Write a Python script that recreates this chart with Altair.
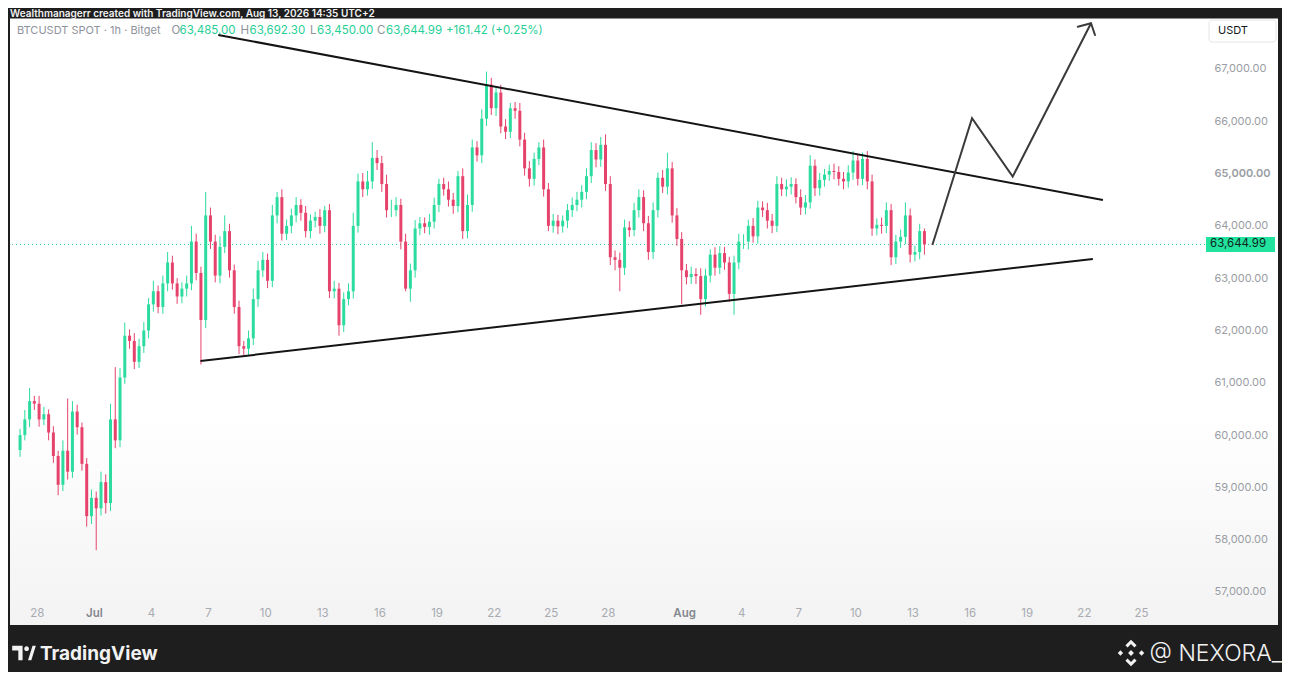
import altair as alt
import pandas as pd

# ---------------- data ----------------
FIRST_OPEN = 59715
START = "2026-06-27 03:00"   # centre of the first 6-hour candle
STEP_HOURS = 6

CLOSE = [
    60000, 60300, 60650, 60600, 60300, 60400, 60050, 59600, 59050, 59700,
    59300, 60450, 60150, 59450, 58450, 58800, 58600, 59100, 58700, 60300,
    59900, 61100, 61900, 61800, 61400, 61700, 62000, 62500, 62750, 62450,
    62900, 63300, 62900, 62650, 62800, 62900, 63700, 63100, 62200, 64200,
    63700, 63050, 63600, 63900, 63150, 62450, 61700, 61650, 61850, 62600,
    63150, 63350, 62950, 64200, 64550, 63850, 64000, 64200, 64400, 64250,
    63900, 64100, 64170, 64000, 64300, 62750, 62800, 62100, 62600, 62750,
    64000, 64850, 64700, 64850, 65300, 65200, 64800, 64300, 64300, 64400,
    63700, 62800, 63150, 63950, 64050, 63980, 64080, 64400, 64800, 64700,
    64500, 64380, 64950, 63900, 64400, 65500, 65350, 66050, 66700, 66250,
    66550, 65900, 65800, 66250, 66200, 65650, 65100, 64900, 65280, 65500,
    64700, 64000, 64100, 63990, 64100, 64300, 64400, 64500, 64650, 64950,
    65450, 65270, 65550, 64800, 63400, 63350, 63200, 63970, 63920, 64300,
    64550, 64050, 63500, 64300, 64920, 64750, 65100, 64200, 63750, 63150,
    63020, 63080, 63040, 62600, 63050, 63450, 63200, 63480, 63300, 62700,
    63300, 63700, 63700, 64000, 63800, 64350, 64300, 64100, 64000, 64800,
    64700, 64750, 64800, 64550, 64350, 64450, 65150, 64720, 64880, 64980,
    65050, 65030, 64900, 64850, 65020, 65250, 64900, 65280, 64850, 63950,
    64020, 64000, 64300, 63400, 63700, 63790, 64200, 63450, 63500, 63900,
    63645,
]
UPPER_WICK = [
    120, 180, 250, 100, 150, 140, 90, 120, 100, 200,
    1000, 200, 130, 90, 110, 160, 120, 200, 150, 300,
    1000, 180, 250, 120, 150, 140, 160, 120, 200, 110,
    150, 200, 130, 100, 120, 150, 300, 150, 120, 450,
    150, 130, 200, 300, 140, 110, 120, 100, 150, 200,
    180, 150, 120, 200, 100, 150, 120, 130, 150, 110,
    130, 120, 100, 150, 80, 120, 150, 110, 130, 150,
    250, 150, 160, 200, 300, 150, 140, 180, 200, 150,
    120, 150, 130, 160, 120, 110, 150, 140, 100, 120,
    150, 130, 100, 150, 200, 150, 120, 180, 250, 130,
    100, 150, 140, 100, 120, 150, 130, 140, 120, 100,
    150, 120, 130, 110, 100, 120, 140, 150, 130, 150,
    150, 130, 150, 200, 150, 130, 140, 150, 120, 140,
    150, 130, 140, 150, 100, 150, 300, 120, 140, 130,
    120, 140, 110, 150, 130, 100, 140, 130, 120, 110,
    130, 150, 140, 120, 150, 130, 120, 140, 130, 150,
    120, 140, 130, 110, 150, 140, 200, 120, 130, 110,
    120, 140, 110, 130, 140, 180, 120, 120, 150, 130,
    120, 140, 150, 120, 130, 140, 250, 130, 120, 140,
    50,
]
LOWER_WICK = [
    130, 100, 150, 120, 140, 110, 150, 130, 200, 120,
    150, 120, 140, 130, 200, 150, 800, 140, 200, 150,
    150, 130, 120, 150, 140, 120, 130, 150, 140, 120,
    130, 150, 120, 140, 130, 150, 130, 140, 850, 150,
    140, 130, 150, 120, 140, 130, 150, 120, 140, 130,
    150, 130, 140, 120, 150, 130, 120, 140, 130, 150,
    120, 140, 130, 150, 120, 130, 140, 200, 130, 120,
    140, 130, 150, 120, 140, 130, 150, 140, 130, 120,
    150, 50, 250, 140, 130, 120, 150, 130, 140, 120,
    130, 150, 120, 150, 140, 130, 120, 150, 140, 130,
    150, 130, 140, 120, 150, 130, 140, 150, 130, 120,
    140, 100, 130, 150, 120, 140, 130, 120, 150, 140,
    130, 150, 140, 130, 150, 200, 450, 140, 130, 120,
    140, 150, 150, 130, 140, 120, 150, 140, 130, 650,
    140, 130, 150, 300, 140, 130, 150, 120, 140, 150,
    400, 130, 140, 150, 120, 140, 130, 150, 140, 120,
    130, 140, 150, 120, 140, 130, 120, 150, 140, 130,
    120, 140, 130, 150, 120, 140, 130, 120, 150, 140,
    130, 150, 140, 150, 130, 120, 140, 150, 130, 140,
    195,
]

LAST_PRICE = 63644.99
OHLC_LABELS = ["O", "H", "L", "C"]
OHLC_VALUES = ["63,485.00", "63,692.30", "63,450.00", "63,644.99"]
CHANGE_TEXT = "+161.42 (+0.25%)"
SYMBOL_TEXT = "BTCUSDT SPOT · 1h · Bitget"
HEADER_TEXT = "Wealthmanagerr created with TradingView.com, Aug 13, 2026 14:35 UTC+2"

Y_TICKS = [57000, 58000, 59000, 60000, 61000, 62000, 63000, 64000, 65000, 66000, 67000]
X_TICK_DATES = [(6, 28), (7, 1), (7, 4), (7, 7), (7, 10), (7, 13), (7, 16), (7, 19),
                (7, 22), (7, 25), (7, 28), (8, 1), (8, 4), (8, 7), (8, 10), (8, 13),
                (8, 16), (8, 19), (8, 22), (8, 25)]

UPPER_TREND = [("2026-07-07T12:52:00", 67650), ("2026-08-23T00:00:00", 64495)]
LOWER_TREND = [("2026-07-06T14:24:00", 61417), ("2026-08-22T11:20:00", 63367)]
PROJECTION = [("2026-08-14T01:00:00", 63635), ("2026-08-16T03:00:00", 66057),
              ("2026-08-18T06:15:00", 64941), ("2026-08-22T09:00:00", 67874)]
ARROW_TIP = ("2026-08-22T09:00:00", 67874)
ARROW_WINGS = [("2026-08-21T16:20:00", 67809), ("2026-08-22T14:00:00", 67650)]

# ---------------- styling ----------------
UP = "#2bdc9e"
DOWN = "#e6436c"
GREEN_TXT = "#26cf96"
GREY_TXT = "#8e929b"
FONT = "Inter"
W, H = 1195, 585

# ---------------- tables ----------------
times = [(pd.Timestamp(START) + pd.Timedelta(hours=STEP_HOURS * i)).strftime("%Y-%m-%dT%H:%M:%S")
         for i in range(len(CLOSE))]
opens = [FIRST_OPEN] + CLOSE[:-1]
candles = pd.DataFrame({
    "t": times,
    "open": opens,
    "close": CLOSE,
    "high": [max(o, c) + u for o, c, u in zip(opens, CLOSE, UPPER_WICK)],
    "low": [min(o, c) - l for o, c, l in zip(opens, CLOSE, LOWER_WICK)],
})

trend = pd.DataFrame({
    "t": [UPPER_TREND[0][0], LOWER_TREND[0][0]],
    "p": [UPPER_TREND[0][1], LOWER_TREND[0][1]],
    "t2": [UPPER_TREND[1][0], LOWER_TREND[1][0]],
    "p2": [UPPER_TREND[1][1], LOWER_TREND[1][1]],
})
proj = pd.DataFrame({"t": [a for a, _ in PROJECTION], "p": [b for _, b in PROJECTION],
                     "k": list(range(len(PROJECTION)))})
head = pd.DataFrame({"t": [a for a, _ in ARROW_WINGS], "p": [b for _, b in ARROW_WINGS],
                     "t2": [ARROW_TIP[0]] * 2, "p2": [ARROW_TIP[1]] * 2})
one = pd.DataFrame({"a": [0]})

# ---------------- scales / axes ----------------
xscale = alt.Scale(domain=[alt.DateTime(year=2026, month=6, date=26, hours=20, minutes=37),
                           alt.DateTime(year=2026, month=8, date=28, hours=2, minutes=22)])
yscale = alt.Scale(domain=[56847, 68032], nice=False, zero=False)

xaxis = alt.Axis(
    values=[alt.DateTime(year=2026, month=m, date=d) for m, d in X_TICK_DATES],
    labelExpr="date(datum.value) == 1 ? timeFormat(datum.value, '%b') : timeFormat(datum.value, '%-d')",
    labelColor={"condition": {"test": "date(datum.value) == 1", "value": "#85888f"}, "value": "#a7aab1"},
    labelFontWeight={"condition": {"test": "date(datum.value) == 1", "value": 600}, "value": 400},
    domain=False, ticks=False, grid=False, labelPadding=7, labelFontSize=11.5,
    labelFont=FONT, title=None, zindex=2, labelFlush=False, labelOverlap=False,
)
yaxis = alt.Axis(
    orient="right", values=Y_TICKS, format=",.2f", labelPadding=9, labelAlign="left",
    labelBaseline="middle",
    domain=False, ticks=False, grid=False, labelColor="#9a9da4", labelFontSize=11,
    labelFont=FONT, title=None, zindex=2,
    labelFontWeight={"condition": {"test": "datum.value == 65000", "value": 600}, "value": 400},
)


def X(field):
    return alt.X(field, scale=xscale, axis=xaxis, title=None)


def Y(field):
    return alt.Y(field, scale=yscale, axis=yaxis, title=None)


# ---------------- layers ----------------
panel = alt.Chart(one).mark_rect(
    color=alt.LinearGradient(gradient="linear", x1=0, x2=0, y1=0, y2=1,
                             stops=[alt.GradientStop(color="#ffffff", offset=0),
                                    alt.GradientStop(color="#ffffff", offset=0.65),
                                    alt.GradientStop(color="#f3f3f3", offset=1)])
).encode(x=alt.value(0), x2=alt.value(1268), y=alt.value(3.5), y2=alt.value(610))

updown = alt.condition("datum.close >= datum.open", alt.value(UP), alt.value(DOWN))

wicks = alt.Chart(candles).mark_rule(strokeWidth=1).encode(
    x=X("t:T"), y=Y("low:Q"), y2="high:Q", color=updown,
)
bodies = alt.Chart(candles).mark_bar(size=3).encode(
    x=X("t:T"), y=Y("open:Q"), y2="close:Q", color=updown,
)

last_line = alt.Chart(one).mark_rule(color=GREEN_TXT, strokeWidth=1, strokeDash=[1, 3]).encode(
    y=alt.datum(LAST_PRICE, scale=yscale, axis=yaxis)
)

trend_lines = alt.Chart(trend).mark_rule(color="#141414", strokeWidth=2).encode(
    x=X("t:T"), x2="t2:T", y=Y("p:Q"), y2="p2:Q",
)
proj_line = alt.Chart(proj).mark_line(color="#3a3a3a", strokeWidth=2, strokeJoin="miter").encode(
    x=X("t:T"), y=Y("p:Q"), order="k:Q",
)
arrow_head = alt.Chart(head).mark_rule(color="#3a3a3a", strokeWidth=2, strokeCap="round").encode(
    x=X("t:T"), x2="t2:T", y=Y("p:Q"), y2="p2:Q",
)

tag = alt.Chart(one).mark_rule(color="#22e39e", strokeWidth=15, strokeCap="butt").encode(
    x=alt.value(1196), x2=alt.value(1265), y=alt.datum(LAST_PRICE, scale=yscale, axis=yaxis)
)
tag_text = alt.Chart(one).mark_text(align="left", baseline="middle", font=FONT, fontSize=11.5,
                                    color="#10231c").encode(
    x=alt.value(1200), y=alt.datum(LAST_PRICE, scale=yscale, axis=yaxis),
    text=alt.value(f"{LAST_PRICE:,.2f}"),
)

usdt_box = alt.Chart(one).mark_rect(fill="#ffffff", stroke="#e6e6e6", cornerRadius=3).encode(
    x=alt.value(1199), x2=alt.value(1266), y=alt.value(5), y2=alt.value(27)
)
usdt_text = alt.Chart(one).mark_text(align="left", baseline="middle", font=FONT, fontSize=11,
                                     color="#131722").encode(
    x=alt.value(1208), y=alt.value(16), text=alt.value("USDT"))


def txt(s, x, y, color, size=11, weight=400, align="left"):
    return alt.Chart(one).mark_text(align=align, baseline="middle", font=FONT, fontSize=size,
                                    fontWeight=weight, color=color).encode(
        x=alt.value(x), y=alt.value(y), text=alt.value(s))


label_x = [161.5, 230.5, 300, 367]
value_x = [169.5, 239.5, 307, 376]
header_layers = [txt(SYMBOL_TEXT, 7, 15.5, GREY_TXT, size=11)]
for lab, lx, val, vx in zip(OHLC_LABELS, label_x, OHLC_VALUES, value_x):
    header_layers.append(txt(lab, lx, 15.5, GREY_TXT, size=11.5))
    header_layers.append(txt(val, vx, 15.5, GREEN_TXT, size=11.5))
header_layers.append(txt(CHANGE_TEXT, 436, 15.5, GREEN_TXT, size=11.5))

top_line = txt(HEADER_TEXT, 0, -1.5, "#f2f2f2", size=10, weight=600)

tv_logo = alt.Chart(one).mark_point(
    shape="M -1 -0.62 H -0.12 V 0.62 H -0.48 V -0.22 H -1 Z "
          "M 0.02 -0.36 A 0.2 0.2 0 1 0 0.02 -0.361 Z "
          "M 0.34 0.62 L 0.72 -0.62 H 1 L 0.62 0.62 Z",
    filled=True, color="#f2f2f2", size=560, opacity=1).encode(
    x=alt.value(14), y=alt.value(638))
tv_text = txt("TradingView", 30, 638.5, "#f2f2f2", size=19, weight=700)

bn_logo = alt.Chart(one).mark_point(
    shape="M 0 -1 L 0.42 -0.58 L 0.26 -0.42 L 0 -0.68 L -0.26 -0.42 L -0.42 -0.58 Z "
          "M 0 1 L 0.42 0.58 L 0.26 0.42 L 0 0.68 L -0.26 0.42 L -0.42 0.58 Z "
          "M -1 0 L -0.8 -0.2 L -0.6 0 L -0.8 0.2 Z "
          "M 1 0 L 0.8 -0.2 L 0.6 0 L 0.8 0.2 Z "
          "M 0 -0.22 L 0.22 0 L 0 0.22 L -0.22 0 Z",
    filled=True, color="#f2f2f2", size=700, opacity=1).encode(
    x=alt.value(1121), y=alt.value(638))
nex_text = txt("@ NEXORA_", 1272, 638.5, "#f2f2f2", size=23, weight=300, align="right")

chart = alt.layer(
    panel, last_line, wicks, bodies, trend_lines, proj_line, arrow_head,
    tag, tag_text, usdt_box, usdt_text, *header_layers, top_line,
    tv_logo, tv_text, bn_logo, nex_text,
).properties(
    width=W, height=H,
    autosize=alt.AutoSizeParams(type="none"),
    padding={"left": 2, "top": 7, "right": 77, "bottom": 72},
    background="#1e1e1e",
).configure_view(stroke=None)

chart.save("out.html", embed_options={"renderer": "svg", "actions": False})
